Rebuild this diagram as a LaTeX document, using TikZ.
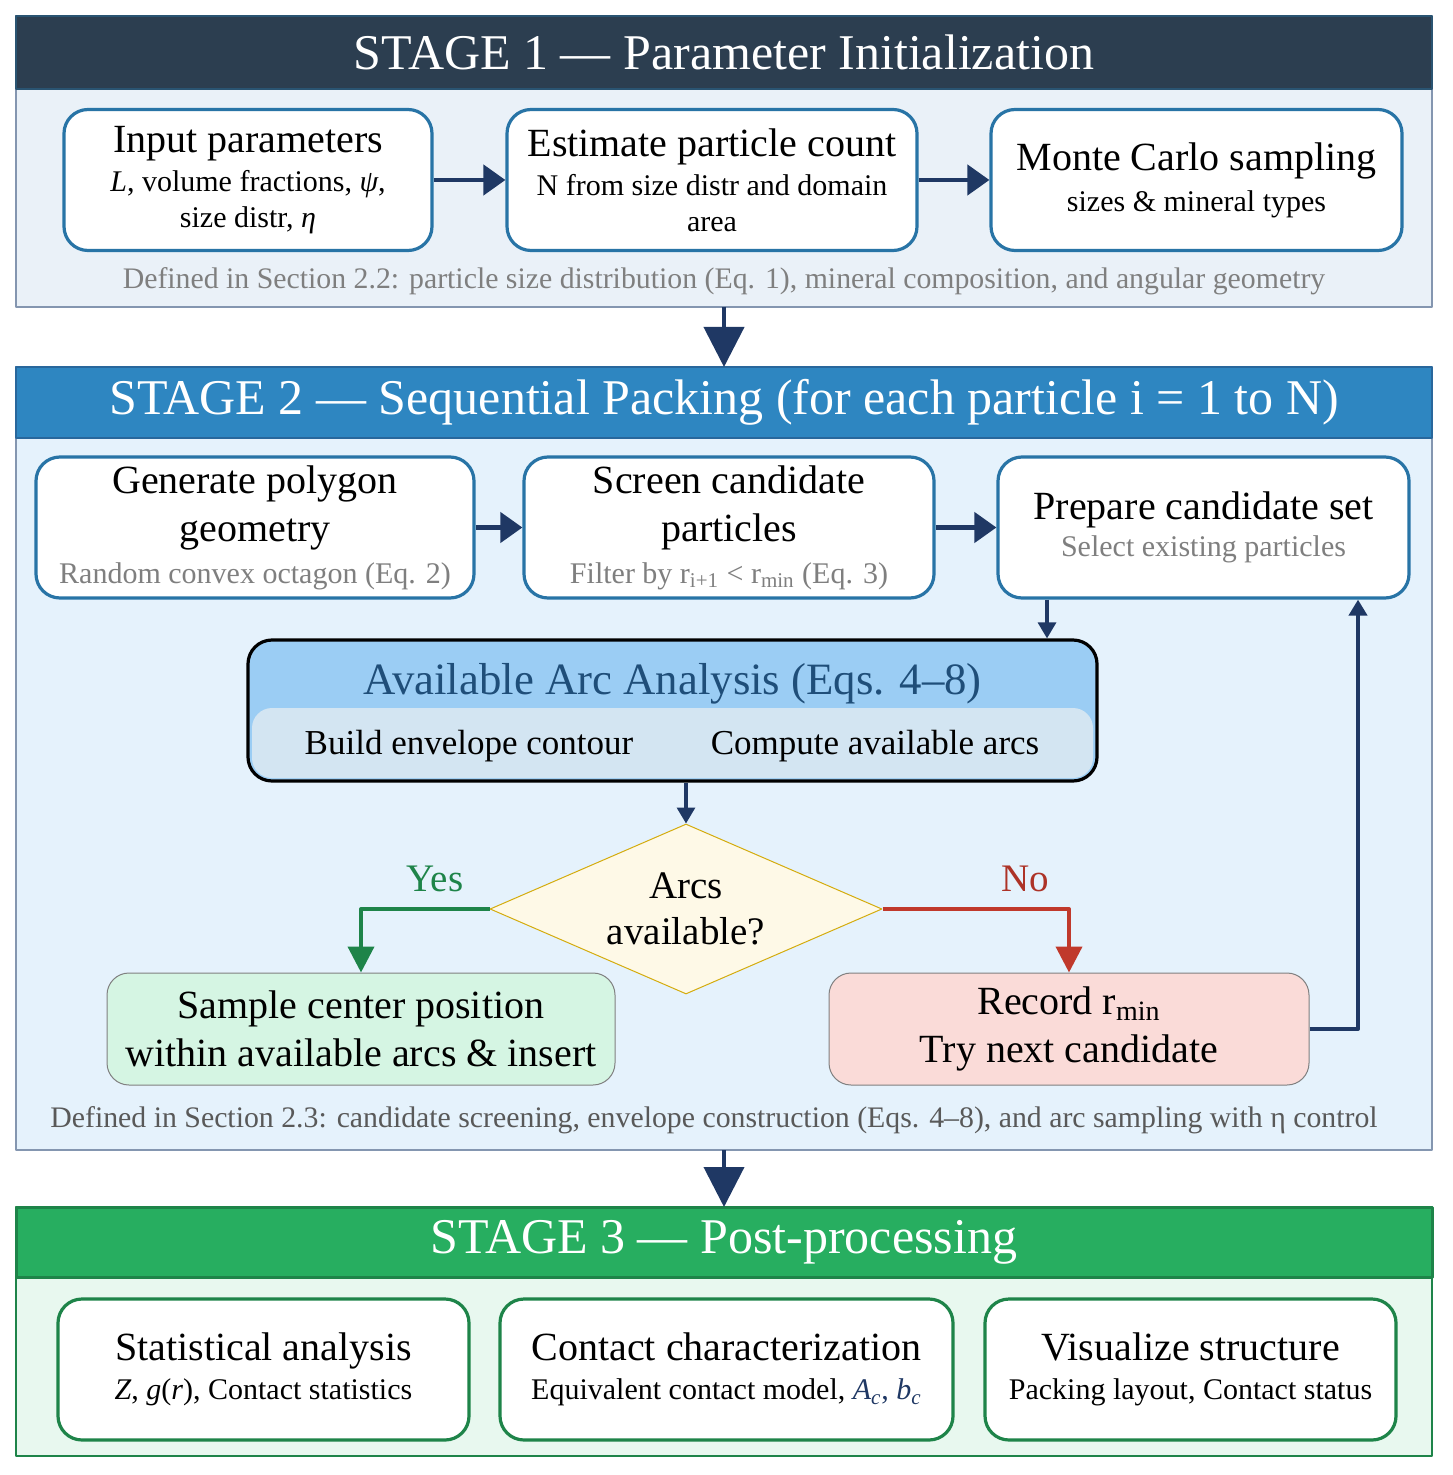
\documentclass[tikz,border=0pt]{standalone}
\usepackage{fontspec}
\setmainfont{Liberation Serif}
\usetikzlibrary{arrows.meta,shapes.geometric}
\definecolor{navy}{HTML}{1F3864}
\definecolor{boxblue}{HTML}{2874A6}
\definecolor{headone}{HTML}{2C3E50}
\definecolor{headtwo}{HTML}{2E86C1}
\definecolor{headthree}{HTML}{27AE60}
\definecolor{panelone}{HTML}{EAF1F8}
\definecolor{paneltwo}{HTML}{E5F2FC}
\definecolor{panelthree}{HTML}{E8F8EF}
\definecolor{panelline}{HTML}{8496B0}
\definecolor{greenline}{HTML}{1E8449}
\definecolor{redline}{HTML}{C0392B}
\definecolor{noteg}{HTML}{7F7F7F}
\definecolor{arcout}{HTML}{9BCDF4}
\definecolor{arcin}{HTML}{D3E5F2}
\definecolor{arctext}{HTML}{1F4E79}
\definecolor{decfill}{HTML}{FEF9E7}
\definecolor{decline}{HTML}{D4AC0D}
\definecolor{yesfill}{HTML}{D5F5E3}
\definecolor{nofill}{HTML}{FADBD8}
\newcommand{\bigline}{\fontsize{20}{24}\selectfont}
\begin{document}
\begin{tikzpicture}[x=0.5pt,y=-0.5pt,line join=round,
	box/.style={draw=boxblue,line width=1.6pt,fill=white,rounded corners=12pt,align=center,inner sep=2pt,minimum height=70.5pt,font=\fontsize{15}{18}\selectfont},
	gbox/.style={box,draw=greenline},
	endbox/.style={draw=gray,line width=0.5pt,rounded corners=11pt,align=center,minimum height=56pt,font=\fontsize{20}{24}\selectfont},
	head/.style={text=white,font=\fontsize{25}{30}\selectfont},
	note/.style={text=noteg,font=\fontsize{14.9}{17}\selectfont},
	big/.style={font=\fontsize{19.5}{22}\selectfont},
	flow/.style={-{Triangle[length=11pt,width=15pt]},draw=navy,line width=2.2pt},
	stageflow/.style={-{Triangle[length=20pt,width=20pt]},draw=navy,line width=2pt},
	thin flow/.style={-{Triangle[length=8pt,width=9pt]},draw=navy,line width=1.6pt}]
	\useasboundingbox (0,0) rectangle (1452,1475);
	% stage 1
	\filldraw[fill=panelone,draw=panelline,line width=0.8pt] (16,16) rectangle (1432,307);
	\filldraw[fill=headone,draw=headone!60!boxblue,line width=1.2pt] (16,16) rectangle (1432,89);
	\node[head] (s1title) at (724,52) {STAGE 1 — Parameter Initialization};
	\node[box,minimum width=184pt] (inp) at (248,180)
		{{\bigline Input parameters}\\[1.5pt]
		\textit{L}, volume fractions, \textit{ψ},\\
		size distr, \textit{η}};
	\node[box,minimum width=205pt] (est) at (712,180)
		{{\bigline Estimate particle count}\\[1.5pt]
		N from size distr and domain\\
		area};
	\node[box,minimum width=205.5pt] (mc) at (1196.5,180)
		{{\bigline Monte Carlo sampling}\\[2.5pt]
		sizes \& mineral types};
	\draw[flow] (inp) -- (est);
	\draw[flow] (est) -- (mc);
	\node[note] (s1note) at (724,281) {Defined in Section 2.2: particle size distribution (Eq. 1), mineral composition, and angular geometry};
	% stage 2
	\filldraw[fill=paneltwo,draw=panelline,line width=0.8pt] (16,367) rectangle (1432,1150);
	\filldraw[fill=headtwo,draw=headtwo!60!navy,line width=1.2pt] (16,367) rectangle (1432,438);
	\node[head] (s2title) at (724,402) {STAGE 2 — Sequential Packing (for each particle i = 1 to N)};
	\coordinate (s1out) at (724,307);
	\coordinate (s2in) at (724,367);
	\draw[stageflow] (s1out) -- (s2in);
	\node[box,minimum width=219pt] (gen) at (255,527.5)
		{{\bigline Generate polygon}\\[6pt]
		{\bigline geometry}\\[3pt]
		{\color{noteg} Random convex octagon (Eq. 2)}};
	\node[box,minimum width=205pt] (scr) at (729,527.5)
		{{\bigline Screen candidate}\\[6pt]
		{\bigline particles}\\[3pt]
		{\color{noteg} Filter by r\textsubscript{i+1} < r\textsubscript{min} (Eq. 3)}};
	\node[box,minimum width=205.5pt] (prep) at (1203.5,527.5)
		{{\bigline Prepare candidate set}\\[0.5pt]
		{\color{noteg} Select existing particles}};
	\draw[flow] (gen) -- (scr);
	\draw[flow] (scr) -- (prep);
	% arc analysis block
	\node[draw=black,line width=1.6pt,fill=arcout,rounded corners=12pt,minimum width=424.5pt,minimum height=70.5pt] (arc) at (672.5,710.5) {};
	\fill[arcin,rounded corners=10pt] (252,708) rectangle (1093,778);
	\node[text=arctext,font=\fontsize{22.4}{26}\selectfont] (arctitle) at (672.5,684) {Available Arc Analysis (Eqs. 4–8)};
	\node[font=\fontsize{17.5}{20}\selectfont] (env) at (469,746) {Build envelope contour};
	\node[font=\fontsize{17.5}{20}\selectfont] (arcs) at (875,746) {Compute available arcs};
	\draw[thin flow] ([xshift=-78.25pt]prep.south) -- ([xshift=-78.25pt]prep.south |- arc.north);
	% decision
	\node[diamond,draw=decline,line width=0.5pt,fill=decfill,minimum width=196pt,minimum height=85pt,inner sep=0pt,aspect=2.3,align=center,font=\fontsize{19.5}{23}\selectfont] (dec) at (686,909) {Arcs\\available?};
	\draw[thin flow] (arc.south -| dec.north) -- (dec.north);
	\node[endbox,fill=yesfill,minimum width=254pt] (samp) at (361,1029) {Sample center position\\within available arcs \& insert};
	\node[endbox,fill=nofill,minimum width=240pt] (rec) at (1069,1029) {Record r\textsubscript{min}\\Try next candidate};
	\draw[-{Triangle[length=13pt,width=13pt]},greenline,line width=2pt] (dec.west) -| (samp.north);
	\draw[-{Triangle[length=13pt,width=13pt]},redline,line width=2pt] (dec.east) -| (rec.north);
	\node[text=greenline,big] (yes) at (435,879) {Yes};
	\node[text=redline!90!black,big] (no) at (1025,879) {No};
	\draw[thin flow,line width=2pt] (rec.east) -| ([xshift=77.25pt]prep.south);
	\node[note,text=black!65] (s2note) at (714,1120) {Defined in Section 2.3: candidate screening, envelope construction (Eqs. 4–8), and arc sampling with η control};
	% stage 3
	\filldraw[fill=panelthree,draw=greenline,line width=0.8pt] (16,1207) rectangle (1432,1456);
	\filldraw[fill=headthree,draw=greenline,line width=1.5pt] (16,1207) rectangle (1432,1277);
	\node[head] (s3title) at (724,1242) {STAGE 3 — Post-processing};
	\coordinate (s2out) at (724,1150);
	\coordinate (s3in) at (724,1207);
	\draw[stageflow] (s2out) -- (s3in);
	\node[gbox,minimum width=205.5pt] (stat) at (263.5,1369.5)
		{{\bigline Statistical analysis}\\[1.5pt]
		\textit{Z}, \textit{g}(\textit{r}), Contact statistics};
	\node[gbox,minimum width=226.5pt] (cont) at (726.5,1369.5)
		{{\bigline Contact characterization}\\[1.5pt]
		Equivalent contact model, {\color{navy}\textit{A\textsubscript{c}}, \textit{b\textsubscript{c}}}};
	\node[gbox,minimum width=205.5pt] (vis) at (1190.5,1369.5)
		{{\bigline Visualize structure}\\[1.5pt]
		Packing layout, Contact status};
\end{tikzpicture}
\end{document}
